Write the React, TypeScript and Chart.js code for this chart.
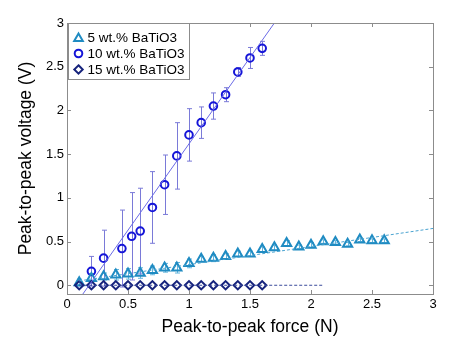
import React, { useEffect, useRef } from "react";
import { Chart, registerables } from "chart.js";

Chart.register(...registerables);

const triX = [0.1, 0.2, 0.3, 0.4, 0.5, 0.6, 0.7, 0.8, 0.9, 1.0, 1.1, 1.2, 1.3, 1.4, 1.5, 1.6, 1.7, 1.8, 1.9, 2.0, 2.1, 2.2, 2.3, 2.4, 2.5, 2.6];
const triY = [0.03, 0.08, 0.10, 0.12, 0.13, 0.14, 0.17, 0.20, 0.20, 0.25, 0.30, 0.31, 0.33, 0.36, 0.36, 0.41, 0.43, 0.48, 0.44, 0.46, 0.50, 0.49, 0.47, 0.52, 0.51, 0.51];
const triErr = [0.04, 0.05, 0.04, 0.06, 0.06, 0.06, 0.05, 0.05, 0.06, 0.05, 0.03, 0.04, 0.03, 0.03, 0.03, 0.03, 0.03, 0.03, 0.02, 0.03, 0.02, 0.02, 0.02, 0.02, 0.02, 0.02];

const circX = [0.2, 0.3, 0.45, 0.53, 0.6, 0.7, 0.8, 0.9, 1.0, 1.1, 1.2, 1.3, 1.4, 1.5, 1.6];
const circY = [0.16, 0.31, 0.42, 0.56, 0.62, 0.89, 1.15, 1.48, 1.72, 1.86, 2.05, 2.18, 2.44, 2.60, 2.71];
const circErr = [0.17, 0.32, 0.44, 0.50, 0.49, 0.41, 0.34, 0.38, 0.30, 0.18, 0.15, 0.08, 0.05, 0.12, 0.08];

const diaX = [0.1, 0.2, 0.3, 0.4, 0.5, 0.6, 0.7, 0.8, 0.9, 1.0, 1.1, 1.2, 1.3, 1.4, 1.5, 1.6];
const diaY = [0, 0, 0, 0, 0, 0, 0, 0, 0, 0, 0, 0, 0, 0, 0, 0];

const triFitX = [0.1, 3.0];
const triFitY = [0.05, 0.65];
const circFitX = [0.13, 1.7];
const circFitY = [-0.1, 3.0];
const diaFitX = [0.1, 2.1];
const diaFitY = [0, 0];

const seriesLabels = ["5 wt.% BaTiO3", "10 wt.% BaTiO3", "15 wt.% BaTiO3"];
const tickValues = [0, 0.5, 1, 1.5, 2, 2.5, 3];

const FONT = "'Liberation Sans', Arial, sans-serif";
const TRI_COLOR = "#1f8bc2";
const CIRC_COLOR = "#1515d8";
const DIA_COLOR = "#16237c";

const pts = (xs: number[], ys: number[]) => xs.map((x, i) => ({ x, y: ys[i] }));

function drawMarker(ctx: CanvasRenderingContext2D, style: string, x: number, y: number, r: number) {
  ctx.beginPath();
  if (style === "circle") {
    ctx.arc(x, y, r, 0, Math.PI * 2);
  } else if (style === "triangle") {
    for (let k = 0; k < 3; k++) {
      const a = -Math.PI / 2 + (k * 2 * Math.PI) / 3;
      const px = x + Math.cos(a) * r;
      const py = y + Math.sin(a) * r + r * 0.2;
      if (k === 0) ctx.moveTo(px, py);
      else ctx.lineTo(px, py);
    }
    ctx.closePath();
  } else {
    ctx.moveTo(x, y - r);
    ctx.lineTo(x + r, y);
    ctx.lineTo(x, y + r);
    ctx.lineTo(x - r, y);
    ctx.closePath();
  }
  ctx.stroke();
}

export default function App() {
  const ref = useRef<HTMLCanvasElement>(null);

  useEffect(() => {
    document.body.style.margin = "0";
    const canvas = ref.current!;

    const errorBars = {
      id: "errorBars",
      beforeDatasetsDraw(chart: any) {
        const ctx = chart.ctx;
        const xs = chart.scales.x;
        const ys = chart.scales.y;
        const groups = [
          { x: triX, y: triY, e: triErr, color: "#62b4dc" },
          { x: circX, y: circY, e: circErr, color: "#7a7ad8" },
        ];
        ctx.save();
        ctx.lineWidth = 1;
        groups.forEach((g) => {
          ctx.strokeStyle = g.color;
          g.x.forEach((xv, i) => {
            const px = Math.round(xs.getPixelForValue(xv)) + 0.5;
            const top = ys.getPixelForValue(g.y[i] + g.e[i]);
            const bot = ys.getPixelForValue(g.y[i] - g.e[i]);
            ctx.beginPath();
            ctx.moveTo(px, top);
            ctx.lineTo(px, bot);
            ctx.moveTo(px - 2.5, top);
            ctx.lineTo(px + 2.5, top);
            ctx.moveTo(px - 2.5, bot);
            ctx.lineTo(px + 2.5, bot);
            ctx.stroke();
          });
        });
        ctx.restore();
      },
    };

    const frame = {
      id: "frame",
      afterDatasetsDraw(chart: any) {
        const ctx = chart.ctx;
        const { left, right, top, bottom } = chart.chartArea;
        const xs = chart.scales.x;
        const ys = chart.scales.y;
        ctx.save();
        ctx.strokeStyle = "#8c8c8c";
        ctx.lineWidth = 1;
        ctx.strokeRect(Math.round(left) + 0.5, Math.round(top) + 0.5, Math.round(right - left), Math.round(bottom - top));
        ctx.beginPath();
        tickValues.forEach((v) => {
          const px = Math.round(xs.getPixelForValue(v)) + 0.5;
          ctx.moveTo(px, bottom);
          ctx.lineTo(px, bottom - 4);
          ctx.moveTo(px, top);
          ctx.lineTo(px, top + 4);
          const py = Math.round(ys.getPixelForValue(v)) + 0.5;
          ctx.moveTo(left, py);
          ctx.lineTo(left + 4, py);
          ctx.moveTo(right, py);
          ctx.lineTo(right - 4, py);
        });
        ctx.stroke();

        // legend
        const lx = Math.round(left) + 1.5;
        const ly = Math.round(top) + 0.5;
        const lw = 121;
        const lh = 56;
        ctx.fillStyle = "#ffffff";
        ctx.fillRect(lx, ly, lw, lh);
        ctx.strokeStyle = "#8c8c8c";
        ctx.strokeRect(lx, ly, lw, lh);
        const styles = ["triangle", "circle", "rectRot"];
        const colors = [TRI_COLOR, CIRC_COLOR, DIA_COLOR];
        const radii = [5, 3.8, 4.2];
        ctx.font = `13.5px ${FONT}`;
        ctx.textBaseline = "middle";
        ctx.textAlign = "left";
        seriesLabels.forEach((lab, i) => {
          const cy = ly + 14 + i * 16;
          ctx.strokeStyle = colors[i];
          ctx.lineWidth = 2;
          drawMarker(ctx, styles[i], lx + 10, cy, radii[i]);
          ctx.fillStyle = "#000000";
          ctx.fillText(lab, lx + 19, cy + 0.5);
        });
        ctx.restore();
      },
    };

    const chart = new Chart(canvas, {
      type: "scatter",
      data: {
        datasets: [
          {
            label: "fit5",
            data: pts(triFitX, triFitY),
            showLine: true,
            borderColor: "#4aa3d0",
            borderWidth: 1,
            borderDash: [3, 2],
            pointRadius: 0,
          },
          {
            label: "fit10",
            data: pts(circFitX, circFitY),
            showLine: true,
            borderColor: "#6a6ae6",
            borderWidth: 1,
            pointRadius: 0,
          },
          {
            label: "fit15",
            data: pts(diaFitX, diaFitY),
            showLine: true,
            borderColor: "#3a4a9a",
            borderWidth: 1,
            borderDash: [3, 2],
            pointRadius: 0,
          },
          {
            label: seriesLabels[2],
            data: pts(diaX, diaY),
            pointStyle: "rectRot",
            pointRadius: 4.2,
            borderColor: DIA_COLOR,
            backgroundColor: "rgba(255,255,255,0)",
            borderWidth: 2,
          },
          {
            label: seriesLabels[0],
            data: pts(triX, triY),
            pointStyle: "triangle",
            pointRadius: 5.3,
            borderColor: TRI_COLOR,
            backgroundColor: "rgba(255,255,255,0)",
            borderWidth: 2,
          },
          {
            label: seriesLabels[1],
            data: pts(circX, circY),
            pointStyle: "circle",
            pointRadius: 3.8,
            borderColor: CIRC_COLOR,
            backgroundColor: "rgba(255,255,255,0)",
            borderWidth: 2,
          },
        ],
      },
      options: {
        animation: false,
        responsive: false,
        maintainAspectRatio: false,
        layout: { padding: { top: 23, right: 41, left: 0, bottom: 0 } },
        plugins: {
          legend: { display: false },
          tooltip: { enabled: false },
        },
        scales: {
          x: {
            type: "linear",
            min: 0,
            max: 3,
            afterFit: (s: any) => {
              s.height = 54;
            },
            afterBuildTicks: (s: any) => {
              s.ticks = tickValues.map((v) => ({ value: v }));
            },
            grid: { display: false, drawTicks: false },
            border: { display: false },
            ticks: {
              color: "#000",
              font: { family: FONT, size: 13 },
              padding: 3,
              maxRotation: 0,
              callback: (v: any) => String(v),
            },
            title: {
              display: true,
              text: "Peak-to-peak force (N)",
              color: "#000",
              font: { family: FONT, size: 17.5 },
              padding: { top: 0, bottom: 10 },
            },
          },
          y: {
            type: "linear",
            min: -0.1,
            max: 3,
            afterFit: (s: any) => {
              s.width = 67;
            },
            afterBuildTicks: (s: any) => {
              s.ticks = tickValues.map((v) => ({ value: v }));
            },
            grid: { display: false, drawTicks: false },
            border: { display: false },
            ticks: {
              color: "#000",
              font: { family: FONT, size: 13 },
              padding: 3,
              callback: (v: any) => String(v),
            },
            title: {
              display: true,
              text: "Peak-to-peak voltage (V)",
              color: "#000",
              font: { family: FONT, size: 17.5 },
              padding: { top: 16, bottom: 0 },
            },
          },
        },
      },
      plugins: [errorBars, frame],
    });

    return () => chart.destroy();
  }, []);

  return (
    <div style={{ width: 474, height: 348, background: "#fff" }}>
      <canvas ref={ref} width={474} height={348} style={{ display: "block" }} />
    </div>
  );
}
